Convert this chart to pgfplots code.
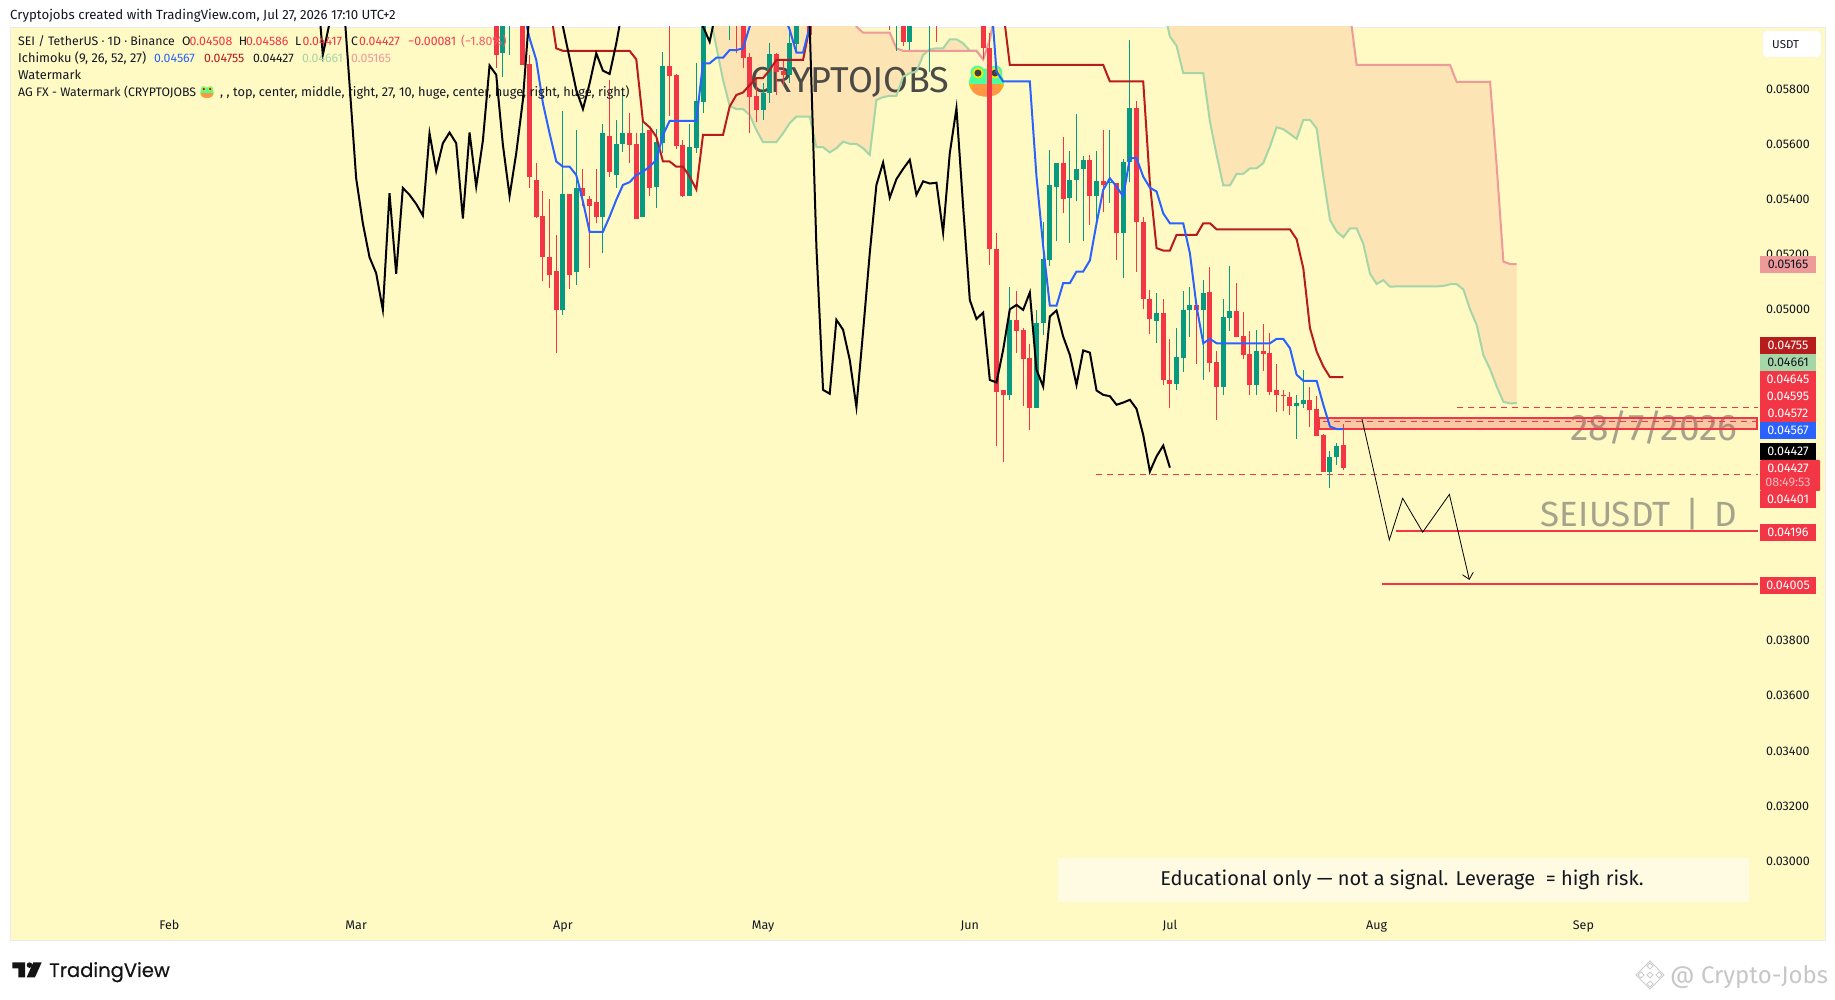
\documentclass[border=0pt]{standalone}
\usepackage{fontspec}
\setmainfont{Fira Sans}
\newfontfamily\tvlogo[FakeBold=0.4]{Poppins}
\usepackage{pgfplots}
\usepackage{pgfplotstable}
\pgfplotsset{compat=1.18}
\usetikzlibrary{arrows.meta}
\definecolor{bgc}{HTML}{FFF9C4}
\definecolor{cloudc}{HTML}{FCE4B4}
\definecolor{upc}{HTML}{089981}
\definecolor{dnc}{HTML}{F23645}
\definecolor{bluec}{HTML}{2962FF}
\definecolor{kijun}{HTML}{B71C1C}
\definecolor{spana}{HTML}{A5D6A7}
\definecolor{spanb}{HTML}{EF9A9A}
\definecolor{wm}{HTML}{A5A38C}
\definecolor{wmd}{HTML}{4B4A46}
\definecolor{txt}{HTML}{131722}
\definecolor{eduf}{HTML}{FFFBE2}
\newsavebox\frog
\sbox\frog{\begin{tikzpicture}[x=1pt,y=-1pt]
\fill[green!55!cyan!70!white] (-9,-10) circle (7);
\fill[green!55!cyan!70!white] (9,-10) circle (7);
\fill[green!55!cyan!70!white] (0,0) ellipse (17.5 and 14);
\begin{scope}\clip (-18,2) rectangle (18,16);
\fill[orange!60!yellow] (0,0) ellipse (17.5 and 14);
\fill[orange!65!pink] (0,6) ellipse (15 and 8);
\end{scope}
\fill[yellow!85!orange] (-8.5,-9.5) circle (5.5);
\fill[yellow!85!orange] (8.5,-9.5) circle (5.5);
\fill[black!75] (-8.5,-9.5) circle (3.5);
\fill[black!75] (8.5,-9.5) circle (3.5);
\end{tikzpicture}}
\pgfplotstableread{
d top bot hi lo
49 0.06100 0.05923 0.06200 0.05875
53 0.06100 0.05887 0.06200 0.05887
54 0.05889 0.05479 0.05923 0.05442
55 0.05470 0.05335 0.05531 0.05331
56 0.05340 0.05189 0.05430 0.05102
57 0.05190 0.05126 0.05401 0.05080
58 0.05140 0.04997 0.05271 0.04842
60 0.05419 0.05126 0.05419 0.05074
62 0.05440 0.05410 0.05510 0.05374
63 0.05401 0.05377 0.05412 0.05152
64 0.05390 0.05337 0.05510 0.05313
66 0.05630 0.05500 0.05833 0.05482
69 0.05639 0.05598 0.05712 0.05533
70 0.05601 0.05330 0.05639 0.05330
72 0.05651 0.05442 0.05651 0.05413
75 0.05883 0.05847 0.06100 0.05702
76 0.05851 0.05593 0.05853 0.05582
77 0.05596 0.05410 0.05615 0.05407
85 0.06100 0.06050 0.06200 0.05929
86 0.06100 0.05911 0.06200 0.05875
87 0.05917 0.05772 0.05929 0.05639
88 0.05775 0.05724 0.05845 0.05679
91 0.05927 0.05863 0.05932 0.05778
92 0.05866 0.05851 0.05905 0.05814
96 0.06100 0.05996 0.06200 0.05996
108 0.06100 0.06040 0.06200 0.06014
110 0.06100 0.05971 0.06200 0.05956
115 0.06100 0.06040 0.06200 0.05971
122 0.06100 0.05947 0.06200 0.05907
123 0.05947 0.05219 0.06002 0.05162
124 0.05220 0.04703 0.05277 0.04504
125 0.04709 0.04689 0.04709 0.04449
127 0.04963 0.04924 0.05068 0.04842
128 0.04927 0.04821 0.04933 0.04649
129 0.04824 0.04645 0.04875 0.04564
134 0.05531 0.05401 0.05625 0.05349
138 0.05543 0.05410 0.05561 0.05307
140 0.05465 0.05452 0.05651 0.05355
142 0.05458 0.05277 0.05458 0.05178
145 0.05730 0.05316 0.05756 0.05138
146 0.05317 0.05038 0.05335 0.05001
147 0.05038 0.04965 0.05072 0.04912
149 0.04987 0.04743 0.05039 0.04725
150 0.04745 0.04732 0.04894 0.04645
154 0.05017 0.04997 0.05032 0.04803
156 0.05064 0.04808 0.05154 0.04772
157 0.04811 0.04718 0.04851 0.04600
160 0.04995 0.04902 0.05096 0.04902
161 0.04905 0.04836 0.04991 0.04821
162 0.04840 0.04725 0.04921 0.04689
164 0.04851 0.04840 0.04948 0.04779
165 0.04843 0.04703 0.04915 0.04689
166 0.04709 0.04689 0.04803 0.04627
167 0.04691 0.04685 0.04709 0.04633
168 0.04684 0.04649 0.04701 0.04619
171 0.04673 0.04637 0.04719 0.04576
172 0.04640 0.04540 0.04687 0.04540
173 0.04546 0.04413 0.04550 0.04411
176 0.04508 0.04427 0.04586 0.04417
}\redcandles
\pgfplotstableread{
d top bot hi lo
50 0.06100 0.05929 0.06200 0.05845
51 0.06100 0.06040 0.06200 0.05923
59 0.05419 0.04997 0.05720 0.04981
61 0.05440 0.05138 0.05651 0.05090
65 0.05639 0.05337 0.05673 0.05204
67 0.05601 0.05488 0.05688 0.05442
68 0.05639 0.05599 0.05784 0.05573
71 0.05639 0.05335 0.05682 0.05335
73 0.05607 0.05446 0.05655 0.05367
74 0.05883 0.05605 0.05933 0.05569
78 0.05590 0.05410 0.05673 0.05410
79 0.05756 0.05587 0.05893 0.05569
80 0.06100 0.05754 0.06200 0.05714
84 0.06100 0.06050 0.06200 0.05978
89 0.05787 0.05724 0.05820 0.05688
90 0.05927 0.05784 0.05965 0.05750
93 0.05965 0.05851 0.06026 0.05820
94 0.06100 0.05962 0.06200 0.05929
109 0.06100 0.06040 0.06200 0.05939
111 0.06100 0.05971 0.06200 0.05941
114 0.06100 0.06040 0.06200 0.05863
126 0.04963 0.04689 0.05081 0.04673
130 0.04951 0.04645 0.04999 0.04645
131 0.05184 0.04951 0.05319 0.04908
132 0.05452 0.05180 0.05579 0.05158
133 0.05531 0.05446 0.05533 0.05247
135 0.05470 0.05406 0.05575 0.05243
136 0.05509 0.05468 0.05709 0.05392
137 0.05543 0.05510 0.05555 0.05250
139 0.05467 0.05410 0.05575 0.05325
141 0.05463 0.05458 0.05651 0.05388
143 0.05534 0.05279 0.05545 0.05116
144 0.05730 0.05534 0.05978 0.05464
148 0.04987 0.04960 0.05059 0.04878
151 0.04829 0.04732 0.04933 0.04707
152 0.04999 0.04826 0.05068 0.04772
153 0.05017 0.04997 0.05081 0.04902
155 0.05059 0.04997 0.05108 0.04743
158 0.04973 0.04718 0.05038 0.04689
159 0.04995 0.04971 0.05159 0.04923
163 0.04851 0.04725 0.04927 0.04689
169 0.04661 0.04649 0.04691 0.04532
170 0.04672 0.04658 0.04782 0.04643
174 0.04465 0.04413 0.04488 0.04352
175 0.04506 0.04464 0.04516 0.04437
}\greencandles
\pgfplotsset{
 bars/.style n args={3}{draw=none,mark=none,forget plot,
  error bars/.cd,y dir=plus,y explicit,error mark=none,
  error bar style={line width=#2,color=#1,line cap=butt}},
}
\newcommand{\lgt}[4]{\node[anchor=base west,inner sep=0pt,text=#3,font=\fontsize{12.8}{14}\selectfont] at (#1,#2) {#4};}
\newcommand{\lgs}[4]{\node[anchor=base west,inner sep=0pt,text=#3,font=\fontsize{12.3}{14}\selectfont] at (#1,#2) {#4};}
\newcommand{\lbox}[4]{\fill[#3] (#4,#1) rectangle (1816,#2);}
\newcommand{\plab}[3]{\node[text=#2,inner sep=0pt,font=\fontsize{12.5}{14}\selectfont] at (1788,#1) {#3};}
\begin{document}
\begin{tikzpicture}
\path[use as bounding box,fill=white] (0,0) rectangle (1835pt,1000pt);
\fill[bgc,draw=black!8] (10pt,60pt) rectangle (1825pt,973pt);
\begin{axis}[at={(10pt,95pt)},anchor=south west,scale only axis,width=1748pt,height=878pt,
 xmin=-23.898,xmax=238.17,ymin=0.028416,ymax=0.060245,
 axis line style={draw=none},major tick length=0pt,
 xtick={0,28,59,89,120,150,181,212},xticklabels={Feb,Mar,Apr,May,Jun,Jul,Aug,Sep},
 ytick={0.030,0.032,0.034,0.036,0.038,0.040,0.042,0.044,0.046,0.048,0.050,0.052,0.054,0.056,0.058},
 yticklabel pos=right,
 scaled y ticks=false,
 y tick label style={/pgf/number format/fixed,/pgf/number format/fixed zerofill,/pgf/number format/precision=5,/pgf/number format/assume math mode=true,anchor=west,xshift=8pt,inner sep=0pt,font=\fontsize{12.5}{14}\selectfont,text=txt},
 x tick label style={anchor=base,yshift=-25pt,inner sep=0pt,font=\fontsize{12.5}{14}\selectfont,text=txt},
]
% Ichimoku cloud
\addplot[fill=cloudc,draw=none,forget plot] coordinates {(81,0.06074)(82,0.05953)(83,0.05833)(84,0.05738)(85,0.05727)(86,0.05727)(87,0.05706)(88,0.05651)(89,0.05607)(90,0.05607)(91,0.05607)(92,0.05639)(93,0.05676)(94,0.05700)(95,0.05700)(96,0.05700)(97,0.05589)(98,0.05589)(99,0.05570)(100,0.05585)(101,0.05609)(102,0.05601)(103,0.05601)(104,0.05585)(105,0.05561)(106,0.05760)(107,0.05770)(108,0.05775)(109,0.05775)(110,0.05845)(111,0.05857)(112,0.05863)(113,0.05923)(114,0.05944)(115,0.05947)(116,0.05947)(117,0.05980)(118,0.05980)(119,0.05965)(120,0.05939)(121,0.05939)(122,0.05907)(123,0.05978)(124,0.06098)(123,0.05978)(122,0.05907)(121,0.05938)(110,0.05938)(109,0.05947)(108,0.06004)(104,0.06004)(103,0.06026)(102,0.0630)(81,0.0630)(81,0.06074)};
\addplot[fill=cloudc,draw=none,forget plot] coordinates {(149,0.06100)(150,0.05990)(151,0.05956)(152,0.05857)(153,0.05857)(154,0.05857)(155,0.05857)(156,0.05682)(157,0.05561)(158,0.05450)(159,0.05450)(160,0.05492)(161,0.05492)(162,0.05512)(163,0.05512)(164,0.05531)(165,0.05591)(166,0.05661)(167,0.05654)(168,0.05637)(169,0.05619)(170,0.05688)(171,0.05688)(172,0.05657)(173,0.05482)(174,0.05325)(175,0.05283)(176,0.05262)(177,0.05294)(178,0.05294)(179,0.05238)(180,0.05130)(181,0.05093)(182,0.05107)(183,0.05083)(184,0.05084)(190,0.05084)(191,0.05086)(192,0.05092)(193,0.05092)(194,0.05073)(195,0.05001)(196,0.04944)(197,0.04835)(198,0.04784)(199,0.04721)(200,0.04666)(201,0.04660)(202,0.04661)(202,0.05165)(201,0.05165)(200,0.05174)(199,0.05518)(198,0.05826)(193,0.05825)(192,0.05887)(178,0.05887)(177,0.06074)(176,0.0630)(149,0.0630)(149,0.06100)};
% watermark
\node[text=wmd,font=\fontsize{36}{40}\selectfont] at (axis cs:102,0.05825) {CRYPTOJOBS};
\node at (axis cs:122.5,0.05825) {\usebox\frog};
\node[text=wm,font=\fontsize{37}{40}\selectfont,anchor=base east,inner sep=0pt] at (axis cs:235.1,0.04527) {28/7/2026};
\node[text=wm,font=\fontsize{35}{40}\selectfont,anchor=base east,inner sep=0pt] at (axis cs:235.1,0.04212) {SEIUSDT\ \,|\ \,D};
% span lines
\addplot[spana,line width=2pt,forget plot] coordinates {(81,0.06074)(82,0.05953)(83,0.05833)(84,0.05738)(85,0.05727)(86,0.05727)(87,0.05706)(88,0.05651)(89,0.05607)(90,0.05607)(91,0.05607)(92,0.05639)(93,0.05676)(94,0.05700)(95,0.05700)(96,0.05700)(97,0.05589)(98,0.05589)(99,0.05570)(100,0.05585)(101,0.05609)(102,0.05601)(103,0.05601)(104,0.05585)(105,0.05561)(106,0.05760)(107,0.05770)(108,0.05775)(109,0.05775)(110,0.05845)(111,0.05857)(112,0.05863)(113,0.05923)(114,0.05944)(115,0.05947)(116,0.05947)(117,0.05980)(118,0.05980)(119,0.05965)(120,0.05939)(121,0.05939)(122,0.05907)(123,0.05978)(124,0.06098)(125,0.0625)(148,0.0625)(149,0.06100)(150,0.05990)(151,0.05956)(152,0.05857)(153,0.05857)(154,0.05857)(155,0.05857)(156,0.05682)(157,0.05561)(158,0.05450)(159,0.05450)(160,0.05492)(161,0.05492)(162,0.05512)(163,0.05512)(164,0.05531)(165,0.05591)(166,0.05661)(167,0.05654)(168,0.05637)(169,0.05619)(170,0.05688)(171,0.05688)(172,0.05657)(173,0.05482)(174,0.05325)(175,0.05283)(176,0.05262)(177,0.05294)(178,0.05294)(179,0.05238)(180,0.05130)(181,0.05093)(182,0.05107)(183,0.05083)(184,0.05084)(185,0.05084)(186,0.05084)(187,0.05084)(188,0.05084)(189,0.05084)(190,0.05084)(191,0.05086)(192,0.05092)(193,0.05092)(194,0.05073)(195,0.05001)(196,0.04944)(197,0.04835)(198,0.04784)(199,0.04721)(200,0.04666)(201,0.04660)(202,0.04661)};
\addplot[spanb,line width=2pt,forget plot] coordinates {(81,0.0630)(102,0.0630)(103,0.06026)(104,0.06004)(105,0.06004)(106,0.06004)(107,0.06004)(108,0.06004)(109,0.05947)(110,0.05938)(111,0.05938)(112,0.05938)(113,0.05938)(114,0.05938)(115,0.05938)(116,0.05938)(117,0.05938)(118,0.05938)(119,0.05938)(120,0.05938)(121,0.05938)(122,0.05907)(123,0.05978)(124,0.06098)(125,0.0630)(176,0.0630)(177,0.06074)(178,0.05887)(192,0.05887)(193,0.05825)(198,0.05826)(199,0.05518)(200,0.05174)(201,0.05165)(202,0.05165)};
% zone box and levels
\addplot[draw=dnc,line width=2.2pt,fill=dnc,fill opacity=0.25,forget plot] coordinates {(172.4,0.04608)(238,0.04608)(238,0.04566)(172.4,0.04566)(172.4,0.04608)};
\addplot[dnc,line width=1pt,dash pattern=on 6pt off 5pt,forget plot] coordinates {(193,0.04645)(238.2,0.04645)};
\addplot[dnc,line width=1pt,dash pattern=on 6pt off 5pt,forget plot] coordinates {(173,0.04595)(238.2,0.04595)};
\addplot[dnc,line width=1pt,dash pattern=on 6pt off 5pt,forget plot] coordinates {(138.9,0.04401)(238.2,0.04401)};
\addplot[dnc,line width=2pt,forget plot] coordinates {(183.9,0.04196)(238.2,0.04196)};
\addplot[dnc,line width=2pt,forget plot] coordinates {(181.8,0.04005)(238.2,0.04005)};
% candles
\addplot[bars={dnc}{1pt}{}] table[x=d,y=lo,y error plus expr=\thisrow{hi}-\thisrow{lo}] {\redcandles};
\addplot[bars={upc}{1pt}{}] table[x=d,y=lo,y error plus expr=\thisrow{hi}-\thisrow{lo}] {\greencandles};
\addplot[bars={dnc}{5pt}{}] table[x=d,y=bot,y error plus expr=\thisrow{top}-\thisrow{bot}] {\redcandles};
\addplot[bars={upc}{5pt}{}] table[x=d,y=bot,y error plus expr=\thisrow{top}-\thisrow{bot}] {\greencandles};
% kijun
\addplot[kijun,line width=2pt,forget plot] coordinates {(57,0.06110)(58,0.05947)(59,0.05938)(69,0.05938)(70,0.05907)(71,0.05682)(72,0.05661)(73,0.05627)(74,0.05537)(75,0.05537)(76,0.05518)(77,0.05518)(78,0.05482)(79,0.05436)(80,0.05633)(83,0.05633)(84,0.05736)(85,0.05778)(86,0.05787)(87,0.05814)(88,0.05839)(89,0.05839)(90,0.05869)(91,0.05905)(95,0.05905)(96,0.06026)(97,0.06110)(124,0.06110)(125,0.06086)(126,0.05887)(140,0.05887)(141,0.05827)(146,0.05827)(147,0.05458)(148,0.05223)(149,0.05214)(150,0.05214)(151,0.05271)(154,0.05271)(155,0.05313)(156,0.05313)(157,0.05291)(168,0.05291)(169,0.05255)(170,0.05150)(171,0.04933)(172,0.04848)(173,0.04794)(174,0.04755)(176,0.04755)};
% tenkan
\addplot[bluec,line width=2pt,forget plot] coordinates {(52,0.0625)(53,0.06086)(54,0.05984)(55,0.05905)(56,0.05748)(57,0.05639)(58,0.05537)(59,0.05518)(60,0.05518)(61,0.05488)(62,0.05392)(63,0.05282)(65,0.05282)(66,0.05337)(67,0.05398)(68,0.05452)(69,0.05462)(70,0.05488)(71,0.05500)(72,0.05518)(73,0.05543)(74,0.05633)(75,0.05684)(79,0.05684)(80,0.05893)(81,0.05893)(82,0.05913)(83,0.05913)(84,0.05941)(85,0.05941)(86,0.05947)(87,0.06026)(88,0.06110)(91,0.06110)(92,0.06074)(93,0.06014)(94,0.05932)(95,0.05932)(96,0.06026)(97,0.06110)(122,0.06110)(123,0.06190)(124,0.05863)(125,0.05827)(129,0.05827)(130,0.05482)(131,0.05229)(132,0.05014)(133,0.05014)(134,0.05096)(135,0.05096)(136,0.05138)(137,0.05138)(138,0.05178)(139,0.05313)(140,0.05434)(141,0.05476)(142,0.05446)(143,0.05410)(144,0.05549)(145,0.05549)(146,0.05482)(147,0.05442)(148,0.05428)(149,0.05349)(150,0.05313)(152,0.05313)(153,0.05204)(154,0.05011)(155,0.04878)(156,0.04894)(157,0.04878)(165,0.04878)(166,0.04894)(167,0.04894)(168,0.04860)(169,0.04764)(170,0.04742)(172,0.04742)(173,0.04655)(174,0.04576)(175,0.04567)(176,0.04567)};
% chikou
\addplot[black,line width=2pt,forget plot] coordinates {(21,0.0640)(22,0.06231)(23,0.05923)(24,0.06038)(25,0.0630)(26,0.06159)(27,0.05820)(28,0.05476)(29,0.05313)(30,0.05190)(31,0.05132)(32,0.04999)(33,0.05422)(34,0.05130)(35,0.05441)(36,0.05416)(37,0.05383)(38,0.05341)(39,0.05639)(40,0.05503)(41,0.05603)(42,0.05642)(43,0.05603)(44,0.05330)(45,0.05642)(46,0.05446)(47,0.05613)(48,0.05885)(49,0.05851)(50,0.05597)(51,0.05412)(52,0.05567)(53,0.05760)(54,0.06086)(55,0.0630)(58,0.0630)(59,0.06026)(60,0.05911)(61,0.05796)(62,0.05727)(63,0.05820)(64,0.05929)(65,0.05866)(66,0.05854)(67,0.05965)(68,0.06098)(69,0.0630)(79,0.0630)(80,0.06026)(81,0.05971)(82,0.06086)(83,0.0630)(95,0.0630)(96,0.06026)(97,0.05229)(98,0.04709)(99,0.04695)(100,0.04963)(101,0.04927)(102,0.04818)(103,0.04647)(104,0.04920)(105,0.05204)(106,0.05452)(107,0.05533)(108,0.05406)(109,0.05473)(110,0.05510)(111,0.05543)(112,0.05416)(113,0.05465)(114,0.05457)(115,0.05460)(116,0.05279)(117,0.05567)(118,0.05730)(119,0.05374)(120,0.05035)(121,0.04966)(122,0.04989)(123,0.04745)(124,0.04736)(125,0.04854)(126,0.05001)(127,0.05017)(128,0.04999)(129,0.05062)(130,0.04782)(131,0.04721)(132,0.04975)(133,0.04997)(134,0.04902)(135,0.04836)(136,0.04727)(137,0.04852)(138,0.04844)(139,0.04707)(140,0.04691)(141,0.04686)(142,0.04655)(143,0.04663)(144,0.04673)(145,0.04640)(146,0.04546)(147,0.04413)(148,0.04468)(149,0.04507)(150,0.04427)};
% projected path
\addplot[black,line width=0.8pt,forget plot,-{Straight Barb[length=6pt,width=11pt]}] coordinates {(178.8,0.04603)(182.9,0.04165)(184.9,0.04316)(187.9,0.04193)(191.9,0.04330)(194.9,0.04020)};
\end{axis}
\begin{scope}[x=1pt,y=-1pt,shift={(0pt,1000pt)}]
% header
\node[anchor=base west,inner sep=0pt,text=txt,font=\fontsize{13.25}{14}\selectfont] at (10,19.5) {Cryptojobs created with TradingView.com, Jul 27, 2026 17:10 UTC+2};
\lgs{18}{46}{txt}{SEI / TetherUS · 1D · Binance}
\lgs{182}{46}{txt}{O}\lgs{189.5}{46}{dnc}{0.04508}
\lgs{238.6}{46}{txt}{H}\lgs{246}{46}{dnc}{0.04586}
\lgs{295}{46}{txt}{L}\lgs{302.4}{46}{dnc}{0.04417}
\lgs{351}{46}{txt}{C}\lgs{359}{46}{dnc}{0.04427}
\lgs{408}{46}{dnc}{−0.00081}\lgs{461}{46}{dnc!80}{(−1.80\%)}
\lgt{18}{63}{txt}{Ichimoku (9, 26, 52, 27)}
\lgs{154}{63}{bluec}{0.04567}\lgs{204}{63}{kijun}{0.04755}\lgs{253}{63}{txt}{0.04427}\lgs{302}{63}{spana}{0.04661}\lgs{351}{63}{spanb}{0.05165}
\lgt{18}{80}{txt}{Watermark}
\lgs{18}{97}{txt}{AG FX - Watermark (CRYPTOJOBS}
\node at (207,92.5) {\scalebox{0.38}{\usebox\frog}};
\lgt{220}{97}{txt}{, , top, center, middle, right, 27, 10, huge, center, huge, right, huge, right)}
% currency box
\fill[white,rounded corners=3pt,draw=black!6] (1763,31) rectangle (1821,57);
\node[anchor=base west,inner sep=0pt,text=txt,font=\fontsize{11.5}{13}\selectfont] at (1772,48.5) {USDT};
% price labels
\lbox{256}{273}{spanb}{1760}\plab{264.5}{txt}{0.05165}
\lbox{337}{354}{kijun}{1760}\plab{345.5}{white}{0.04755}
\lbox{354}{371}{spana}{1760}\plab{362.5}{txt}{0.04661}
\lbox{371}{422}{dnc}{1760}\plab{379.5}{white}{0.04645}\plab{396.5}{white}{0.04595}\plab{413.5}{white}{0.04572}
\lbox{422}{439}{bluec}{1760}\plab{430.5}{white}{0.04567}
\lbox{443.3}{460}{black}{1760}\plab{451.5}{white}{0.04427}
\fill[dnc,rounded corners=1pt] (1760,460) rectangle (1820,491);
\plab{468.5}{white}{0.04427}\plab{482.5}{white!65!dnc}{08:49:53}
\lbox{491}{508}{dnc}{1760}\plab{499.5}{white}{0.04401}
\lbox{524}{541}{dnc}{1760}\plab{532.5}{white}{0.04196}
\lbox{577}{594}{dnc}{1760}\plab{585.5}{white}{0.04005}
% disclaimer
\fill[eduf] (1057.5,858) rectangle (1749,902);
\node[text=txt,font=\fontsize{20}{22}\selectfont] at (1402,880) {Educational only — not a signal. Leverage\ \ = high risk.};
% footer logo
\fill[black!92] (12.3,962.3) -- (25,962.3) -- (25,977.3) -- (18.3,977.3) -- (18.3,968.3) -- (12.3,968.3) -- cycle;
\fill[black!92] (29.5,965.1) circle (2.8);
\fill[black!92] (26.7,977.3) -- (35,977.3) -- (41.7,962.3) -- (33.3,962.3) -- cycle;
\node[anchor=base west,inner sep=0pt,text=black!92,font=\tvlogo\fontsize{19.5}{24}\selectfont] at (49,977) {TradingView};
% footer watermark
\begin{scope}[shift={(1650,975)},draw=black!20,line width=1pt]
\foreach \a/\b in {0/-9,0/9,-9/0,9/0,0/0}{\draw (\a-3,\b) -- (\a,\b-3) -- (\a+3,\b) -- (\a,\b+3) -- cycle;}
\draw (-14,0) -- (0,-14) -- (14,0) -- (0,14) -- cycle;
\end{scope}
\node[anchor=base west,inner sep=0pt,text=black!22,font=\fontsize{24}{28}\selectfont] at (1670,984) {@ Crypto-Jobs};
\end{scope}
\end{tikzpicture}
\end{document}
